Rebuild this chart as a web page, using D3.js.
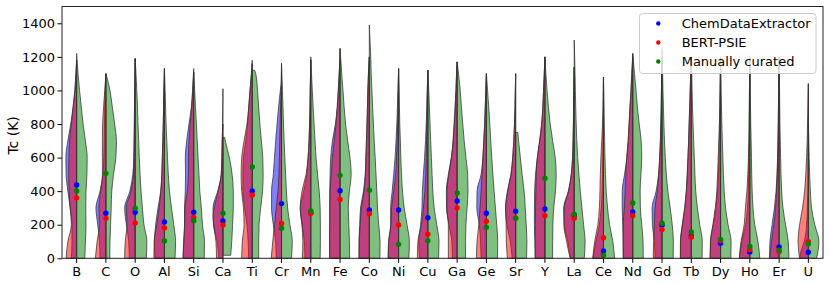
<!DOCTYPE html>
<html>
<head>
<meta charset="utf-8">
<script src="https://cdn.jsdelivr.net/npm/d3@7"></script>
<style>
body{margin:0;background:#fff}
svg{display:block;font-family:"DejaVu Sans",sans-serif}
</style>
</head>
<body>
<svg></svg>
<script>
var screen = {width:830,height:284}
var margins = {top:6.5,right:7,bottom:25.7,left:62}

//categories and ticks
var elements = ["B","C","O","Al","Si","Ca","Ti","Cr","Mn","Fe","Co","Ni","Cu","Ga","Ge","Sr","Y","La","Ce","Nd","Gd","Tb","Dy","Ho","Er","U"]
var yTicks = [0,200,400,600,800,1000,1200,1400]
var seriesNames = ["ChemDataExtractor","BERT-PSIE","Manually curated"]

//mean Tc (K) per element
var cdeMeans = [437,268,274,216,274,222,401,326,270,403,288,288,242,342,268,280,294,255,44,276,197,133,89,38,68,36]
var bertMeans = [360,238,210,181,244,199,377,208,268,350,266,199,143,300,220,240,254,238,123,254,171,125,105,52,40,99]
var curatedMeans = [401,506,298,103,224,268,544,179,282,494,405,83,105,389,185,238,477,262,18,330,209,157,113,70,48,85]

//violin outlines: [Tc, relative half width]
var cdeShapes = [
 [[0,.45],[100,.4],[200,.4],[300,.55],[400,.75],[500,.9],[600,.92],[700,.75],[800,.5],[900,.3],[1000,.15],[1100,.06],[1180,0]],
 [[0,.5],[100,.55],[200,.7],[300,.85],[400,.5],[500,.25],[600,.18],[700,.15],[800,.12],[900,.1],[1000,.06],[1100,0]],
 [[0,.5],[100,.55],[200,.75],[300,.9],[400,.45],[500,.2],[600,.12],[700,.1],[800,.08],[1000,.04],[1190,0]],
 [[0,.8],[100,.85],[200,.75],[300,.55],[400,.32],[500,.22],[600,.18],[700,.14],[800,.1],[1000,.05],[1130,0]],
 [[0,.9],[100,.85],[200,.78],[300,.78],[400,.72],[500,.7],[600,.72],[700,.6],[800,.4],[900,.2],[1000,.1],[1130,0]],
 [[0,.35],[100,.5],[200,.8],[300,.85],[400,.45],[500,.15],[600,.08],[700,.05],[800,.04],[1010,0]],
 [[0,.3],[100,.35],[200,.45],[300,.65],[400,.8],[500,.8],[600,.75],[700,.55],[800,.4],[900,.3],[1000,.2],[1100,.08],[1180,0]],
 [[0,.45],[100,.5],[200,.7],[300,.85],[400,.85],[500,.7],[600,.6],[700,.5],[800,.38],[900,.25],[1000,.1],[1050,0]],
 [[0,.5],[100,.55],[200,.75],[300,.9],[400,.6],[500,.35],[600,.22],[700,.15],[800,.1],[1000,.05],[1180,0]],
 [[0,.85],[100,.88],[200,.88],[300,.88],[400,.88],[500,.85],[600,.8],[700,.65],[800,.4],[900,.25],[1000,.16],[1100,.08],[1180,0]],
 [[0,.88],[100,.88],[200,.82],[300,.75],[400,.5],[500,.35],[600,.3],[700,.25],[800,.2],[900,.16],[1000,.13],[1100,.08],[1200,0]],
 [[0,.88],[100,.85],[200,.68],[300,.68],[400,.55],[500,.42],[600,.3],[700,.22],[800,.15],[900,.1],[1000,.06],[1130,0]],
 [[0,.7],[100,.78],[200,.62],[300,.5],[400,.47],[500,.38],[600,.28],[700,.2],[800,.14],[900,.09],[1000,.05],[1120,0]],
 [[0,.4],[100,.45],[200,.7],[300,.9],[400,.92],[500,.75],[600,.5],[700,.35],[800,.26],[900,.18],[1000,.1],[1100,.05],[1170,0]],
 [[0,.45],[100,.5],[200,.6],[300,.82],[400,.8],[500,.45],[600,.3],[700,.22],[800,.15],[900,.1],[1000,.05],[1100,0]],
 [[0,.3],[100,.45],[200,.75],[300,.87],[400,.7],[500,.4],[600,.25],[700,.16],[800,.1],[900,.06],[1000,.03],[1100,0]],
 [[0,.8],[100,.85],[200,.9],[300,.9],[400,.88],[500,.8],[600,.65],[700,.45],[800,.28],[900,.18],[1000,.12],[1100,.06],[1200,0]],
 [[0,.3],[100,.55],[200,.85],[300,.9],[400,.5],[500,.25],[600,.14],[700,.1],[800,.07],[900,.05],[1000,.04],[1140,0]],
 [[0,.9],[100,.65],[200,.35],[300,.2],[400,.12],[500,.08],[600,.06],[700,.04],[800,.03],[1080,0]],
 [[0,.8],[100,.82],[200,.85],[300,.9],[400,.9],[500,.7],[600,.5],[700,.38],[800,.3],[900,.23],[1000,.15],[1100,.08],[1220,0]],
 [[0,.6],[100,.65],[200,.82],[300,.85],[400,.5],[500,.3],[600,.2],[700,.14],[800,.1],[900,.07],[1000,.05],[1200,0]],
 [[0,.92],[100,.92],[200,.75],[300,.55],[400,.42],[500,.34],[600,.28],[700,.22],[800,.18],[900,.13],[1000,.09],[1100,.05],[1200,0]],
 [[0,.88],[100,.85],[200,.62],[300,.4],[400,.26],[500,.18],[600,.14],[700,.1],[800,.08],[1000,.04],[1200,0]],
 [[0,.88],[100,.7],[200,.35],[300,.2],[400,.13],[500,.1],[600,.08],[700,.06],[800,.05],[1000,.03],[1200,0]],
 [[0,.82],[100,.78],[200,.6],[300,.4],[400,.26],[500,.18],[600,.13],[700,.1],[800,.07],[1000,.04],[1200,0]],
 [[0,.75],[50,.6],[100,.35],[200,.15],[300,.08],[400,.04],[500,.02],[1040,0]]
]
var bertShapes = [
 [[0,.9],[100,.75],[200,.45],[300,.55],[400,.65],[500,.68],[600,.66],[700,.6],[800,.45],[900,.3],[1000,.15],[1100,.06],[1180,0]],
 [[0,.9],[100,.75],[200,.55],[300,.6],[400,.45],[500,.3],[600,.3],[700,.3],[800,.28],[900,.2],[1000,.1],[1100,0]],
 [[0,.9],[100,.85],[200,.7],[300,.75],[400,.35],[500,.15],[600,.1],[800,.06],[1190,0]],
 [[0,.9],[100,.88],[200,.65],[300,.45],[400,.3],[500,.22],[600,.18],[700,.14],[800,.1],[1000,.05],[1130,0]],
 [[0,.92],[100,.85],[200,.78],[300,.75],[400,.55],[500,.45],[600,.45],[700,.4],[800,.3],[900,.18],[1000,.08],[1110,0]],
 [[0,.55],[100,.6],[200,.8],[250,.85],[300,.75],[400,.4],[500,.15],[600,.1],[700,.08],[800,0]],
 [[0,.9],[100,.85],[200,.7],[300,.75],[400,.9],[500,.95],[600,.9],[700,.7],[800,.45],[900,.3],[1000,.18],[1100,.06],[1160,0]],
 [[0,.88],[100,.75],[200,.6],[300,.45],[400,.3],[500,.22],[600,.18],[700,.15],[800,.12],[900,.08],[1000,.05],[1160,0]],
 [[0,.72],[100,.68],[200,.75],[300,.9],[400,.75],[500,.4],[600,.24],[700,.15],[800,.1],[1000,.05],[1180,0]],
 [[0,.9],[100,.9],[200,.88],[300,.88],[400,.85],[500,.75],[600,.65],[700,.5],[800,.35],[900,.22],[1000,.14],[1100,.07],[1250,0]],
 [[0,.88],[100,.86],[200,.78],[300,.68],[400,.45],[500,.33],[600,.28],[700,.24],[800,.2],[900,.16],[1000,.12],[1100,.07],[1200,0]],
 [[0,.9],[100,.85],[200,.65],[300,.6],[400,.42],[500,.25],[600,.17],[700,.12],[800,.08],[900,.05],[1000,.03],[1130,0]],
 [[0,.9],[100,.85],[200,.55],[300,.38],[400,.25],[500,.18],[600,.14],[700,.11],[800,.09],[900,.07],[1000,.05],[1120,0]],
 [[0,.75],[100,.75],[200,.75],[300,.88],[400,.88],[500,.7],[600,.48],[700,.33],[800,.24],[900,.16],[1000,.1],[1100,.05],[1170,0]],
 [[0,.85],[100,.8],[200,.65],[300,.55],[400,.45],[500,.38],[600,.3],[700,.22],[800,.15],[900,.1],[1000,.05],[1100,0]],
 [[0,.7],[100,.8],[200,.82],[300,.85],[400,.68],[500,.4],[600,.25],[700,.16],[800,.1],[900,.06],[1000,.03],[1100,0]],
 [[0,.85],[100,.85],[200,.82],[300,.8],[400,.78],[500,.75],[600,.65],[700,.45],[800,.28],[900,.18],[1000,.12],[1100,.06],[1200,0]],
 [[0,.35],[100,.65],[200,.88],[300,.85],[400,.48],[500,.25],[600,.14],[700,.1],[800,.07],[1000,.04],[1140,0]],
 [[0,.92],[100,.75],[200,.48],[300,.35],[400,.3],[500,.27],[600,.22],[700,.15],[800,.08],[900,.04],[1080,0]],
 [[0,.82],[100,.82],[200,.82],[300,.72],[400,.65],[500,.6],[600,.52],[700,.4],[800,.32],[900,.24],[1000,.15],[1100,.08],[1200,0]],
 [[0,.75],[100,.72],[200,.65],[300,.6],[400,.4],[500,.27],[600,.2],[700,.14],[800,.1],[900,.07],[1000,.05],[1200,0]],
 [[0,.94],[100,.93],[200,.77],[300,.57],[400,.43],[500,.35],[600,.29],[700,.23],[800,.19],[900,.14],[1000,.1],[1100,.05],[1200,0]],
 [[0,.9],[100,.87],[200,.66],[300,.45],[400,.32],[500,.25],[600,.2],[700,.15],[800,.1],[1000,.05],[1200,0]],
 [[0,.9],[100,.75],[200,.48],[300,.38],[400,.25],[500,.17],[600,.12],[700,.08],[800,.06],[1000,.03],[1200,0]],
 [[0,.8],[100,.65],[200,.45],[300,.3],[400,.22],[500,.16],[600,.12],[700,.09],[800,.07],[1000,.04],[1200,0]],
 [[0,.75],[100,.88],[200,.75],[300,.5],[400,.32],[500,.22],[600,.15],[700,.1],[800,.07],[900,.04],[1040,0]]
]
var curatedShapes = [
 [[0,.7],[100,.75],[200,.8],[300,.78],[400,.8],[500,.88],[600,.9],[700,.75],[800,.55],[900,.4],[1000,.25],[1100,.12],[1220,0]],
 [[0,.33],[100,.35],[200,.4],[300,.45],[400,.5],[500,.65],[600,.85],[700,.9],[800,.75],[900,.55],[1000,.35],[1100,0]],
 [[0,.95],[100,1],[200,.75],[300,.62],[400,.5],[500,.42],[600,.35],[700,.3],[800,.24],[900,.2],[1000,.14],[1100,.07],[1190,0]],
 [[0,.9],[100,.95],[200,.8],[300,.6],[400,.43],[500,.33],[600,.26],[700,.2],[800,.14],[1000,.06],[1130,0]],
 [[0,.9],[100,.92],[200,.75],[300,.65],[400,.52],[500,.45],[600,.37],[700,.3],[800,.23],[900,.15],[1000,.08],[1110,0]],
 [[18,.66],[100,.75],[200,.82],[300,.88],[400,.88],[500,.78],[600,.55],[700,.2],[720,.15]],
 [[0,.55],[100,.55],[200,.58],[300,.72],[400,.88],[500,.93],[600,.9],[700,.78],[800,.65],[900,.55],[1000,.45],[1100,.3],[1120,.2]],
 [[0,.85],[100,.92],[200,.72],[300,.52],[400,.42],[500,.35],[600,.28],[700,.22],[800,.17],[1000,.08],[1160,0]],
 [[0,.8],[100,.82],[200,.82],[300,.8],[400,.72],[500,.58],[600,.45],[700,.36],[800,.28],[900,.2],[1000,.13],[1100,.06],[1200,0]],
 [[0,.82],[100,.8],[200,.75],[300,.7],[400,.8],[500,.95],[600,.85],[700,.65],[800,.47],[900,.35],[1000,.25],[1100,.14],[1250,0]],
 [[0,.9],[100,.92],[200,.8],[300,.7],[400,.64],[500,.57],[600,.5],[700,.42],[800,.35],[900,.28],[1000,.22],[1100,.16],[1200,.12],[1300,.06],[1390,0]],
 [[0,.88],[100,.92],[200,.72],[300,.48],[400,.33],[500,.25],[600,.19],[700,.15],[800,.1],[1000,.05],[1130,0]],
 [[0,.92],[100,.95],[200,.76],[300,.54],[400,.42],[500,.36],[600,.3],[700,.24],[800,.19],[900,.13],[1000,.08],[1120,0]],
 [[0,.72],[100,.72],[200,.75],[300,.85],[400,.93],[500,.9],[600,.75],[700,.6],[800,.48],[900,.37],[1000,.26],[1100,.12],[1170,0]],
 [[0,.95],[100,.97],[200,.88],[300,.77],[400,.66],[500,.55],[600,.46],[700,.37],[800,.29],[900,.2],[1000,.1],[1100,0]],
 [[0,.93],[100,.96],[200,.9],[300,.82],[400,.72],[500,.55],[600,.4],[700,.25],[750,.19]],
 [[0,.65],[100,.66],[200,.68],[300,.75],[400,.9],[500,.96],[600,.88],[700,.66],[800,.45],[900,.3],[1000,.18],[1100,.08],[1200,0]],
 [[0,.86],[100,.93],[200,.8],[300,.66],[400,.52],[500,.4],[600,.3],[700,.22],[800,.17],[900,.13],[1000,.1],[1100,.07],[1200,.04],[1300,0]],
 [[0,.95],[100,.8],[200,.52],[300,.35],[400,.23],[500,.17],[600,.13],[700,.1],[800,.07],[1000,.03],[1080,0]],
 [[0,.9],[100,.88],[200,.77],[300,.65],[400,.63],[500,.7],[600,.77],[700,.72],[800,.55],[900,.4],[1000,.28],[1100,.15],[1220,0]],
 [[0,.95],[100,.97],[200,.87],[300,.7],[400,.5],[500,.37],[600,.28],[700,.21],[800,.16],[900,.12],[1000,.08],[1100,.05],[1250,0]],
 [[0,.92],[100,.94],[200,.72],[300,.52],[400,.38],[500,.31],[600,.26],[700,.2],[800,.15],[900,.1],[1000,.07],[1100,.04],[1200,0]],
 [[0,.88],[100,.9],[200,.64],[300,.43],[400,.31],[500,.24],[600,.2],[700,.15],[800,.11],[1000,.05],[1200,0]],
 [[0,.85],[100,.7],[200,.42],[300,.27],[400,.2],[500,.16],[600,.14],[700,.11],[800,.08],[1000,.04],[1200,0]],
 [[0,.84],[100,.78],[200,.55],[300,.33],[400,.22],[500,.16],[600,.13],[700,.1],[800,.07],[1000,.04],[1200,0]],
 [[0,.7],[100,.9],[200,.55],[300,.27],[400,.17],[500,.11],[600,.07],[700,.04],[800,0]]
]

var svg = d3.select("svg")
    .attr("width",screen.width)
    .attr("height",screen.height)

var width = screen.width - margins.left - margins.right
var height = screen.height - margins.top - margins.bottom

var xScale = d3.scaleBand()
    .domain(elements)
    .range([margins.left,margins.left+width])

var yScale = d3.scaleLinear()
    .domain([0,1500])
    .range([margins.top+height,margins.top])

//relative density -> half width in px (0.4 of a slot, like a split violin)
var wScale = d3.scaleLinear()
    .domain([0,1])
    .range([0,xScale.bandwidth()*0.4])

var center = function(el){return xScale(el)+xScale.bandwidth()/2}

//draws one half violin, side -1 = left, +1 = right
var drawHalves = function(shapes,side,fill,cls)
{
    svg.append("g")
        .attr("class",cls)
        .selectAll("path")
        .data(shapes)
        .enter()
        .append("path")
        .attr("d",function(shape,i)
        {
            var cx = center(elements[i])
            return d3.area()
                .curve(d3.curveMonotoneY)
                .y(function(d){return yScale(d[0])})
                .x0(cx)
                .x1(function(d){return cx + side*wScale(d[1])})(shape)
        })
        .attr("fill",fill)
        .attr("fill-opacity",0.5)
        .attr("stroke","#333")
        .attr("stroke-opacity",0.75)
        .attr("stroke-width",1)
}

drawHalves(cdeShapes,-1,"#0000ff","cde")
drawHalves(bertShapes,-1,"#ff0000","bert")
drawHalves(curatedShapes,1,"#008000","curated")

//mean dots
var drawDots = function(means,color)
{
    svg.append("g")
        .selectAll("circle")
        .data(means)
        .enter()
        .append("circle")
        .attr("cx",function(m,i){return center(elements[i])})
        .attr("cy",function(m){return yScale(m)})
        .attr("r",2.7)
        .attr("fill",color)
}
drawDots(cdeMeans,"#0000ff")
drawDots(bertMeans,"#ff0000")
drawDots(curatedMeans,"#008000")

//axes
var yAxis = d3.axisLeft(yScale).tickValues(yTicks).tickFormat(d3.format("d")).tickSize(4.5).tickPadding(2.5)
var xAxis = d3.axisBottom(xScale).tickSize(4.5).tickPadding(3.5)

svg.append("g")
    .attr("transform","translate("+margins.left+",0)")
    .call(yAxis)
svg.append("g")
    .attr("transform","translate(0,"+(margins.top+height)+")")
    .call(xAxis)
svg.selectAll(".domain").remove()
svg.selectAll(".tick text").attr("font-size",13).attr("font-family","DejaVu Sans").attr("fill","#000")
svg.selectAll(".tick line").attr("stroke","#000").attr("stroke-width",1)

svg.append("rect")
    .attr("x",margins.left)
    .attr("y",margins.top)
    .attr("width",width)
    .attr("height",height)
    .attr("fill","none")
    .attr("stroke","#222")
    .attr("stroke-width",1)

svg.append("text")
    .attr("transform","translate(17.5,"+(margins.top+height/2+3)+") rotate(-90)")
    .attr("text-anchor","middle")
    .attr("font-size",14)
    .text("Tc (K)")

//legend
var legend = svg.append("g").attr("transform","translate(639.5,13.5)")
legend.append("rect")
    .attr("width",176.5)
    .attr("height",60)
    .attr("rx",3)
    .attr("fill","#fff")
    .attr("fill-opacity",0.8)
    .attr("stroke","#ccc")
var legendColors = ["#0000ff","#ff0000","#008000"]
var rows = legend.selectAll(".row")
    .data(seriesNames)
    .enter()
    .append("g")
    .attr("class","row")
    .attr("transform",function(s,i){return "translate(0,"+(10+i*19)+")"})
rows.append("circle")
    .attr("cx",18.8)
    .attr("r",2.2)
    .attr("fill",function(s,i){return legendColors[i]})
rows.append("text")
    .attr("x",42.2)
    .attr("dy","0.36em")
    .attr("font-size",13)
    .text(function(s){return s})
</script>
</body>
</html>
